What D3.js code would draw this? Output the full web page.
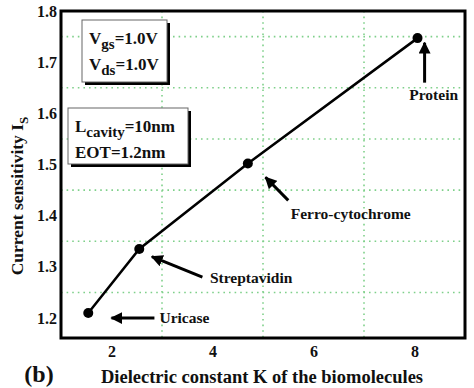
<!DOCTYPE html>
<html>
<head>
<meta charset="utf-8">
<script src="https://cdn.jsdelivr.net/npm/d3@7"></script>
<style>
  body { margin: 0; background: #fff; }
  text { font-family: "Liberation Serif", "Times New Roman", serif; font-weight: bold; fill: #111; }
</style>
</head>
<body>
<div id="chart"></div>
<script>
// Data
const molecules = ["Uricase", "Streptavidin", "Ferro-cytochrome", "Protein"];
const kValues = [1.54, 2.55, 4.7, 8.06];
const sensitivity = [1.21, 1.335, 1.502, 1.747];
const xTicks = [2, 4, 6, 8];
const yTicks = [1.2, 1.3, 1.4, 1.5, 1.6, 1.7, 1.8];
const xGrid = [3, 5, 7];
const yGrid = [1.25, 1.35, 1.45, 1.55, 1.65, 1.75];

const W = 474, H = 388;
const m = { left: 61, right: 9, top: 11, bottom: 50 };

const svg = d3.select("#chart").append("svg")
  .attr("width", W).attr("height", H);

const x = d3.scaleLinear().domain([1, 9]).range([m.left, W - m.right]);
const y = d3.scaleLinear().domain([1.161, 1.8]).range([H - m.bottom, m.top]);

// Dotted green grid
const grid = svg.append("g").attr("stroke", "#7fd08a").attr("stroke-width", 1.6)
  .attr("stroke-dasharray", "1.6,4");
grid.selectAll("line.v").data(xGrid).enter().append("line")
  .attr("x1", d => x(d)).attr("x2", d => x(d))
  .attr("y1", m.top).attr("y2", H - m.bottom);
grid.selectAll("line.h").data(yGrid).enter().append("line")
  .attr("y1", d => y(d)).attr("y2", d => y(d))
  .attr("x1", m.left).attr("x2", W - m.right);

// Axes (labels only, frame drawn separately)
const xAxis = svg.append("g")
  .attr("transform", `translate(0,${H - m.bottom})`)
  .call(d3.axisBottom(x).tickValues(xTicks).tickSize(0).tickPadding(8).tickFormat(d3.format("d")));
const yAxis = svg.append("g")
  .attr("transform", `translate(${m.left},0)`)
  .call(d3.axisLeft(y).tickValues(yTicks).tickSize(0).tickPadding(4).tickFormat(d3.format(".1f")));
[xAxis, yAxis].forEach(a => {
  a.select(".domain").remove();
  a.selectAll("text").attr("font-size", 16).attr("font-family", "Liberation Serif").attr("font-weight", "bold").attr("fill", "#111");
});

// Frame
svg.append("rect")
  .attr("x", m.left).attr("y", m.top)
  .attr("width", W - m.left - m.right).attr("height", H - m.top - m.bottom)
  .attr("fill", "none").attr("stroke", "#000").attr("stroke-width", 3);

// Line and markers
const pts = kValues.map((k, i) => ({ k, s: sensitivity[i], name: molecules[i] }));
svg.append("path").datum(pts)
  .attr("d", d3.line().x(d => x(d.k)).y(d => y(d.s)))
  .attr("fill", "none").attr("stroke", "#000").attr("stroke-width", 2.5);
svg.selectAll("circle.pt").data(pts).enter().append("circle")
  .attr("cx", d => x(d.k)).attr("cy", d => y(d.s)).attr("r", 5).attr("fill", "#000");

// Arrow marker
svg.append("defs").append("marker")
  .attr("id", "ah").attr("viewBox", "0 0 10 10").attr("refX", 9).attr("refY", 5)
  .attr("markerWidth", 4).attr("markerHeight", 4).attr("orient", "auto")
  .append("path").attr("d", "M0,0L10,5L0,10Z").attr("fill", "#000");

// Annotations: arrow tail / head in data units, label position in data units
const notes = [
  { name: "Uricase", tail: [2.85, 1.2], head: [2.0, 1.2], label: [2.95, 1.2], anchor: "start" },
  { name: "Streptavidin", tail: [3.8, 1.28], head: [2.8, 1.32], label: [3.95, 1.28], anchor: "start" },
  { name: "Ferro-cytochrome", tail: [5.5, 1.43], head: [5.05, 1.475], label: [5.55, 1.405], anchor: "start" },
  { name: "Protein", tail: [8.2, 1.66], head: [8.2, 1.738], label: [8.38, 1.637], anchor: "middle" }
];
const ann = svg.append("g");
ann.selectAll("line").data(notes).enter().append("line")
  .attr("x1", d => x(d.tail[0])).attr("y1", d => y(d.tail[1]))
  .attr("x2", d => x(d.head[0])).attr("y2", d => y(d.head[1]))
  .attr("stroke", "#000").attr("stroke-width", 3).attr("marker-end", "url(#ah)");
ann.selectAll("text").data(notes).enter().append("text")
  .attr("x", d => x(d.label[0])).attr("y", d => y(d.label[1]))
  .attr("dy", "0.35em").attr("text-anchor", d => d.anchor)
  .attr("font-size", 15.5).text(d => d.name);

// Info boxes with drop shadow
function infoBox(bx, by, bw, bh, lines) {
  const g = svg.append("g");
  g.append("rect").attr("x", bx + 3).attr("y", by + 3).attr("width", bw).attr("height", bh).attr("fill", "#000");
  g.append("rect").attr("x", bx).attr("y", by).attr("width", bw).attr("height", bh)
    .attr("fill", "#fff").attr("stroke", "#666").attr("stroke-width", 1);
  lines.forEach((ln, i) => {
    const t = g.append("text").attr("x", bx + 7).attr("y", by + 24 + i * 26).attr("font-size", 17);
    t.append("tspan").text(ln[0]);
    t.append("tspan").attr("dy", 5).attr("font-size", 15).text(ln[1]);
    t.append("tspan").attr("dy", -5).text(ln[2]);
  });
}
infoBox(82, 20, 85, 62, [["V", "gs", "=1.0V"], ["V", "ds", "=1.0V"]]);
infoBox(68, 108, 120, 56, [["L", "cavity", "=10nm"], ["EOT=1.2nm", "", ""]]);

// Axis titles
svg.append("text")
  .attr("transform", `translate(23,196) rotate(-90)`)
  .attr("text-anchor", "middle").attr("font-size", 17.5)
  .call(t => {
    t.append("tspan").text("Current sensitivity I");
    t.append("tspan").attr("dy", 5).attr("font-size", 13).text("S");
  });
svg.append("text")
  .attr("x", 262).attr("y", 383).attr("text-anchor", "middle").attr("font-size", 18.5)
  .text("Dielectric constant K of the biomolecules");
svg.append("text")
  .attr("x", 39).attr("y", 382).attr("text-anchor", "middle").attr("font-size", 24)
  .text("(b)");
</script>
</body>
</html>
